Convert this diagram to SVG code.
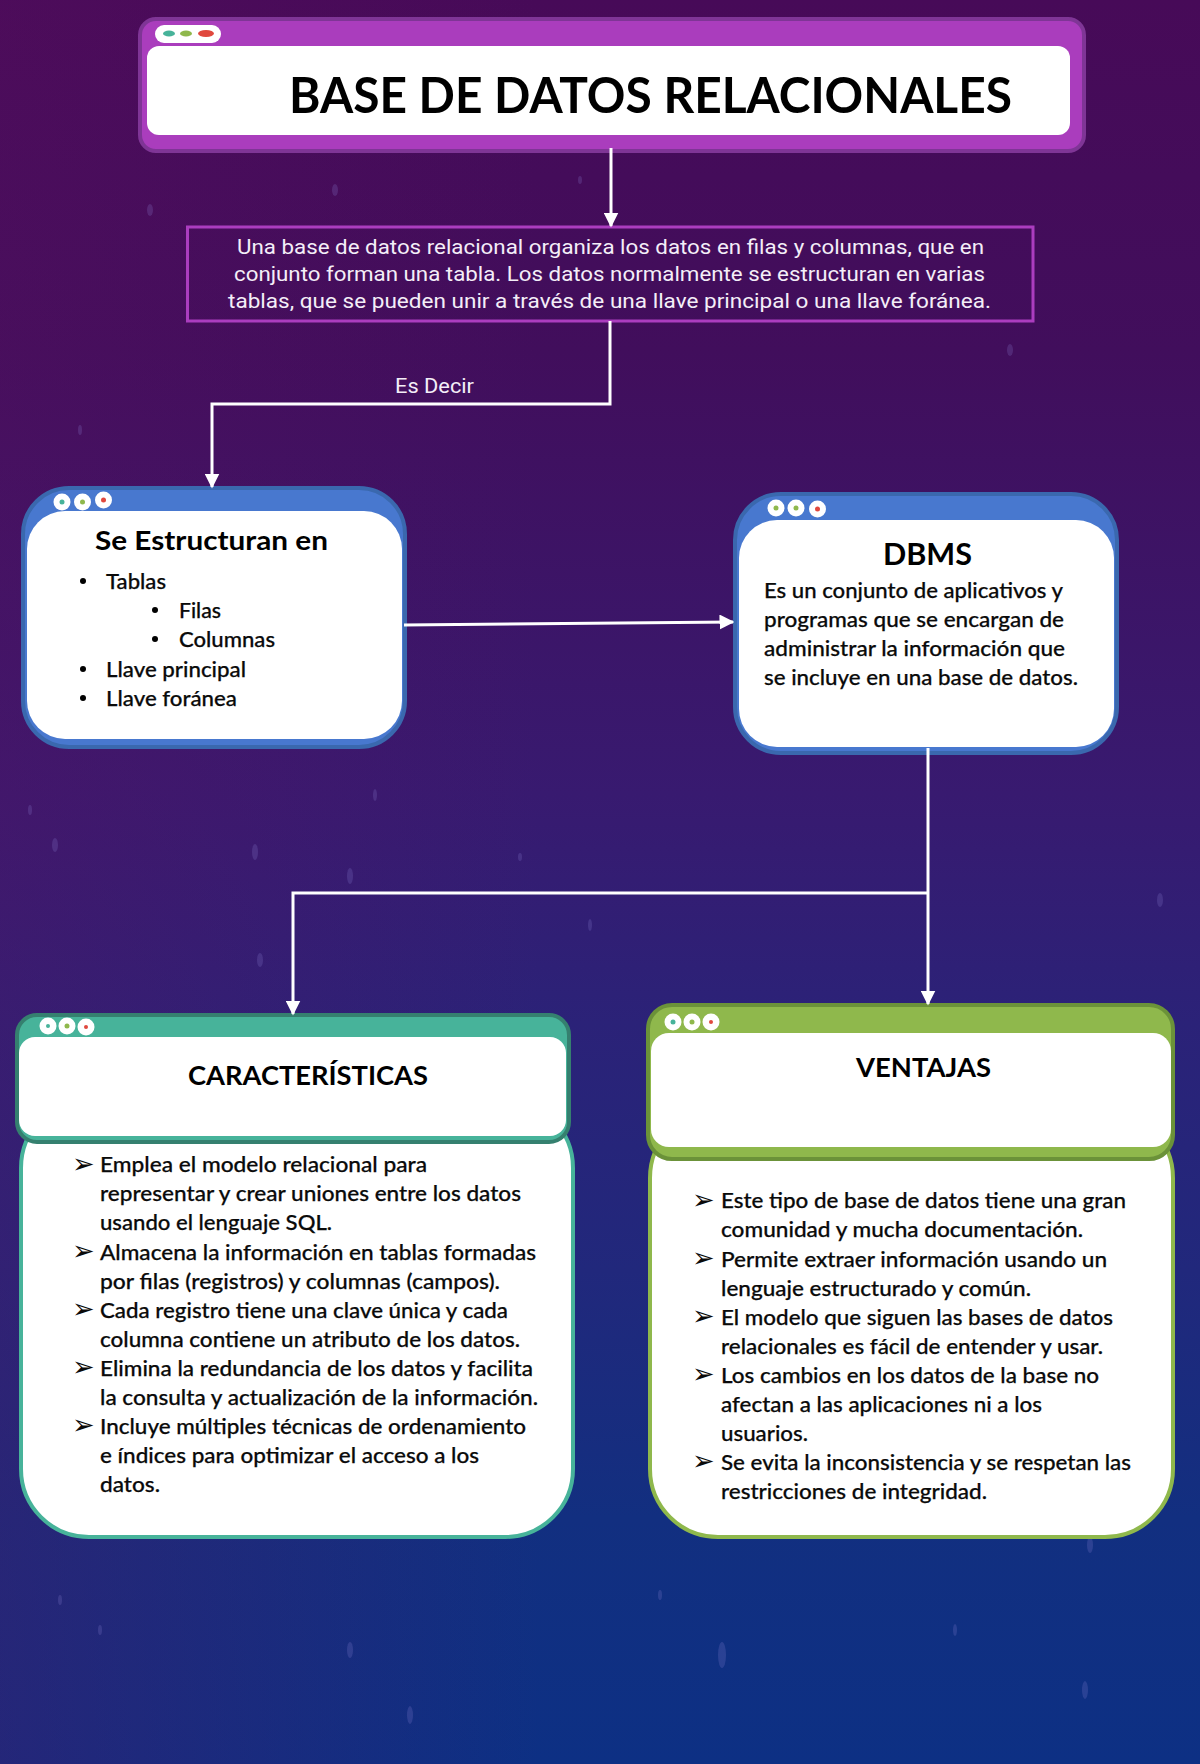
<svg xmlns="http://www.w3.org/2000/svg" width="1200" height="1764" viewBox="0 0 1200 1764">
<style>
.t{font-family:"Lato","Liberation Sans",sans-serif;fill:#0a0a0a;stroke:#0a0a0a;stroke-width:.25px;font-size:22px;font-weight:500}
.h{font-family:"Lato","Liberation Sans",sans-serif;fill:#000;font-weight:700;font-size:27px}
.d{font-family:"Roboto","Liberation Sans",sans-serif;fill:#f4eef8;font-size:20.5px}
.m{font-family:"DejaVu Sans",sans-serif;fill:#0a0a0a;font-size:27px}
.c{fill:none;stroke:#fff;stroke-width:3}
.w{fill:#fff}
.dot{fill:#fff}
.teal{fill:#47b39a}.green{fill:#8fb84c}.red{fill:#e0483e}
.s{fill:#8f86d8;opacity:.22}
</style>
<defs>
<linearGradient id="bg" x1="0" y1="0" x2="0" y2="1">
<stop offset="0" stop-color="#470a58"/>
<stop offset="0.2" stop-color="#410e5c"/>
<stop offset="0.45" stop-color="#381a70"/>
<stop offset="0.58" stop-color="#2b2278"/>
<stop offset="0.72" stop-color="#21287c"/>
<stop offset="0.86" stop-color="#122f80"/>
<stop offset="1" stop-color="#0d3084"/>
</linearGradient>
<linearGradient id="side" x1="0" y1="0" x2="1" y2="0">
<stop offset="0" stop-color="#5a1060" stop-opacity="0.3"/>
<stop offset="0.45" stop-color="#5a1060" stop-opacity="0"/>
</linearGradient>
<marker id="arr" viewBox="0 0 10 10" refX="9" refY="5" markerWidth="5" markerHeight="5" orient="auto" markerUnits="strokeWidth">
<path d="M0 0L10 5L0 10Z" fill="#fff"/>
</marker>
</defs>
<rect width="1200" height="1764" fill="url(#bg)"/>
<rect width="1200" height="1764" fill="url(#side)"/>
<g id="stars">
<ellipse class="s" cx="30" cy="810" rx="2" ry="5"/><ellipse class="s" cx="55" cy="845" rx="3" ry="7"/><ellipse class="s" cx="255" cy="852" rx="3" ry="8"/><ellipse class="s" cx="375" cy="795" rx="2" ry="6"/><ellipse class="s" cx="350" cy="876" rx="3" ry="8"/><ellipse class="s" cx="590" cy="925" rx="2" ry="6"/><ellipse class="s" cx="520" cy="857" rx="2" ry="4"/><ellipse class="s" cx="260" cy="960" rx="3" ry="7"/>
<ellipse class="s" cx="100" cy="1630" rx="2" ry="5"/><ellipse class="s" cx="350" cy="1650" rx="3" ry="8"/><ellipse class="s" cx="410" cy="1715" rx="3" ry="9"/><ellipse class="s" cx="660" cy="1595" rx="2" ry="5"/><ellipse class="s" cx="722" cy="1655" rx="4" ry="13"/><ellipse class="s" cx="955" cy="1630" rx="2" ry="6"/><ellipse class="s" cx="1090" cy="1545" rx="3" ry="8"/><ellipse class="s" cx="1085" cy="1690" rx="3" ry="9"/>
<ellipse class="s" cx="300" cy="40" rx="3" ry="6" transform="translate(-150 170)"/><ellipse class="s" cx="335" cy="190" rx="3" ry="6"/><ellipse class="s" cx="580" cy="180" rx="2" ry="4"/><ellipse class="s" cx="1010" cy="350" rx="3" ry="6"/><ellipse class="s" cx="80" cy="430" rx="2" ry="5"/><ellipse class="s" cx="1160" cy="900" rx="3" ry="7"/><ellipse class="s" cx="60" cy="1600" rx="2" ry="5"/>
</g>

<g id="node-title">
<rect x="140" y="19" width="944" height="132" rx="16" fill="#aa3dbd" stroke="#7f3596" stroke-width="4"/>
<rect x="147" y="46" width="923" height="89" rx="12" class="w"/>
<rect x="155" y="25" width="66" height="18" rx="9" class="dot"/>
<ellipse cx="169" cy="33.500" rx="6" ry="3" class="teal"/>
<ellipse cx="186" cy="33.500" rx="6" ry="3" class="green"/>
<ellipse cx="206" cy="33.500" rx="8" ry="3.500" class="red"/>
<text x="289" y="113" class="h" style="font-size:50px" textLength="723" lengthAdjust="spacingAndGlyphs">BASE DE DATOS RELACIONALES</text>
</g>

<g id="node-definicion">
<rect x="187.500" y="227" width="845.500" height="94" fill="none" stroke="#ab3dbf" stroke-width="3"/>
<text x="237" y="254" class="d" textLength="747" lengthAdjust="spacingAndGlyphs">Una base de datos relacional organiza los datos en filas y columnas, que en</text>
<text x="234" y="281" class="d" textLength="751" lengthAdjust="spacingAndGlyphs">conjunto forman una tabla. Los datos normalmente se estructuran en varias</text>
<text x="228" y="308" class="d" textLength="763" lengthAdjust="spacingAndGlyphs">tablas, que se pueden unir a través de una llave principal o una llave foránea.</text>
</g>

<g id="node-estructuran">
<rect x="23" y="488" width="382" height="259" rx="46" fill="#4878cf" stroke="#3a68ae" stroke-width="4"/>
<rect x="27" y="511" width="375" height="228" rx="38" class="w"/>
<circle cx="62" cy="502" r="8.500" class="dot"/><circle cx="82.500" cy="502" r="8.500" class="dot"/><circle cx="103.500" cy="500" r="8.500" class="dot"/>
<circle cx="62" cy="502" r="2.500" class="teal"/><circle cx="82.500" cy="502" r="2.500" class="green"/><circle cx="103.500" cy="500" r="2.500" class="red"/>
<text x="95" y="550" class="h" textLength="233" lengthAdjust="spacingAndGlyphs">Se Estructuran en</text>
<circle cx="83" cy="581" r="3"/><text x="106" y="589" class="t" textLength="60" lengthAdjust="spacingAndGlyphs">Tablas</text>
<circle cx="155" cy="610" r="3"/><text x="179" y="618" class="t" textLength="42" lengthAdjust="spacingAndGlyphs">Filas</text>
<circle cx="155" cy="639" r="3"/><text x="179" y="647" class="t" textLength="96" lengthAdjust="spacingAndGlyphs">Columnas</text>
<circle cx="83" cy="669" r="3"/><text x="106" y="677" class="t" textLength="140" lengthAdjust="spacingAndGlyphs">Llave principal</text>
<circle cx="83" cy="698" r="3"/><text x="106" y="706" class="t" textLength="131" lengthAdjust="spacingAndGlyphs">Llave foránea</text>
</g>

<g id="node-dbms">
<rect x="735" y="494" width="382" height="259" rx="46" fill="#4878cf" stroke="#3a68ae" stroke-width="4"/>
<rect x="739" y="520" width="375" height="227" rx="38" class="w"/>
<circle cx="776" cy="508" r="8.500" class="dot"/><circle cx="796" cy="508" r="8.500" class="dot"/><circle cx="817.500" cy="509" r="8.500" class="dot"/>
<circle cx="776" cy="508" r="2.500" class="green"/><circle cx="796" cy="508" r="2.500" class="green"/><circle cx="817.500" cy="509" r="2.500" class="red"/>
<text x="883" y="565" class="h" style="font-size:31px" textLength="89" lengthAdjust="spacingAndGlyphs">DBMS</text>
<text x="764" y="598" class="t" textLength="299" lengthAdjust="spacingAndGlyphs">Es un conjunto de aplicativos y</text>
<text x="764" y="627" class="t" textLength="300" lengthAdjust="spacingAndGlyphs">programas que se encargan de</text>
<text x="764" y="656" class="t" textLength="301" lengthAdjust="spacingAndGlyphs">administrar la información que</text>
<text x="764" y="685" class="t" textLength="314" lengthAdjust="spacingAndGlyphs">se incluye en una base de datos.</text>
</g>

<g id="node-caracteristicas">
<rect x="21" y="1100" width="552" height="437" rx="68" class="w" stroke="#47b39a" stroke-width="4"/>
<rect x="17" y="1015" width="552" height="127" rx="20" fill="#47b39a" stroke="#35806f" stroke-width="4"/>
<rect x="19" y="1037" width="547" height="99" rx="16" class="w"/>
<circle cx="48" cy="1026" r="8.500" class="dot"/><circle cx="67" cy="1026" r="8.500" class="dot"/><circle cx="86" cy="1027" r="8.500" class="dot"/>
<circle cx="48" cy="1026" r="2" class="teal"/><circle cx="67" cy="1026" r="2.500" class="green"/><circle cx="86" cy="1027" r="2" class="red"/>
<text x="188" y="1085" class="h" textLength="240" lengthAdjust="spacingAndGlyphs">CARACTERÍSTICAS</text>
<text x="72" y="1173" class="m">➢</text><text x="100" y="1172" class="t" textLength="327" lengthAdjust="spacingAndGlyphs">Emplea el modelo relacional para</text>
<text x="100" y="1201" class="t" textLength="421" lengthAdjust="spacingAndGlyphs">representar y crear uniones entre los datos</text>
<text x="100" y="1230" class="t" textLength="232" lengthAdjust="spacingAndGlyphs">usando el lenguaje SQL.</text>
<text x="72" y="1260" class="m">➢</text><text x="100" y="1260" class="t" textLength="436" lengthAdjust="spacingAndGlyphs">Almacena la información en tablas formadas</text>
<text x="100" y="1289" class="t" textLength="400" lengthAdjust="spacingAndGlyphs">por filas (registros) y columnas (campos).</text>
<text x="72" y="1318" class="m">➢</text><text x="100" y="1318" class="t" textLength="408" lengthAdjust="spacingAndGlyphs">Cada registro tiene una clave única y cada</text>
<text x="100" y="1347" class="t" textLength="420" lengthAdjust="spacingAndGlyphs">columna contiene un atributo de los datos.</text>
<text x="72" y="1376" class="m">➢</text><text x="100" y="1376" class="t" textLength="433" lengthAdjust="spacingAndGlyphs">Elimina la redundancia de los datos y facilita</text>
<text x="100" y="1405" class="t" textLength="438" lengthAdjust="spacingAndGlyphs">la consulta y actualización de la información.</text>
<text x="72" y="1434" class="m">➢</text><text x="100" y="1434" class="t" textLength="426" lengthAdjust="spacingAndGlyphs">Incluye múltiples técnicas de ordenamiento</text>
<text x="100" y="1463" class="t" textLength="379" lengthAdjust="spacingAndGlyphs">e índices para optimizar el acceso a los</text>
<text x="100" y="1492" class="t" textLength="60" lengthAdjust="spacingAndGlyphs">datos.</text>
</g>

<g id="node-ventajas">
<rect x="650" y="1110" width="523" height="427" rx="68" class="w" stroke="#8fb84c" stroke-width="4"/>
<rect x="648" y="1005" width="525" height="154" rx="24" fill="#8fb84c" stroke="#6b9239" stroke-width="4"/>
<rect x="651" y="1033" width="520" height="114" rx="18" class="w"/>
<circle cx="673" cy="1022" r="8.500" class="dot"/><circle cx="692" cy="1022" r="8.500" class="dot"/><circle cx="711" cy="1022" r="8.500" class="dot"/>
<circle cx="673" cy="1022" r="2.500" class="teal"/><circle cx="692" cy="1022" r="2.500" class="green"/><circle cx="711" cy="1022" r="2" class="red"/>
<text x="856" y="1077" class="h" textLength="135" lengthAdjust="spacingAndGlyphs">VENTAJAS</text>
<text x="692" y="1209" class="m">➢</text><text x="721" y="1208" class="t" textLength="405" lengthAdjust="spacingAndGlyphs">Este tipo de base de datos tiene una gran</text>
<text x="721" y="1237" class="t" textLength="362" lengthAdjust="spacingAndGlyphs">comunidad y mucha documentación.</text>
<text x="692" y="1267" class="m">➢</text><text x="721" y="1267" class="t" textLength="386" lengthAdjust="spacingAndGlyphs">Permite extraer información usando un</text>
<text x="721" y="1296" class="t" textLength="310" lengthAdjust="spacingAndGlyphs">lenguaje estructurado y común.</text>
<text x="692" y="1325" class="m">➢</text><text x="721" y="1325" class="t" textLength="392" lengthAdjust="spacingAndGlyphs">El modelo que siguen las bases de datos</text>
<text x="721" y="1354" class="t" textLength="382" lengthAdjust="spacingAndGlyphs">relacionales es fácil de entender y usar.</text>
<text x="692" y="1383" class="m">➢</text><text x="721" y="1383" class="t" textLength="378" lengthAdjust="spacingAndGlyphs">Los cambios en los datos de la base no</text>
<text x="721" y="1412" class="t" textLength="321" lengthAdjust="spacingAndGlyphs">afectan a las aplicaciones ni a los</text>
<text x="721" y="1441" class="t" textLength="87" lengthAdjust="spacingAndGlyphs">usuarios.</text>
<text x="692" y="1470" class="m">➢</text><text x="721" y="1470" class="t" textLength="410" lengthAdjust="spacingAndGlyphs">Se evita la inconsistencia y se respetan las</text>
<text x="721" y="1499" class="t" textLength="266" lengthAdjust="spacingAndGlyphs">restricciones de integridad.</text>
</g>

<g id="connectors">
<path class="c" d="M611 148V226" marker-end="url(#arr)"/>
<path class="c" d="M610 321V404H212V487" marker-end="url(#arr)"/>
<path class="c" d="M404 625L733 622" marker-end="url(#arr)"/>
<path class="c" d="M928 748V1004" marker-end="url(#arr)"/>
<path class="c" d="M928 893H293V1014" marker-end="url(#arr)"/>
</g>
<text id="label-es-decir" x="395" y="393" class="d" textLength="79" lengthAdjust="spacingAndGlyphs">Es Decir</text>
</svg>
